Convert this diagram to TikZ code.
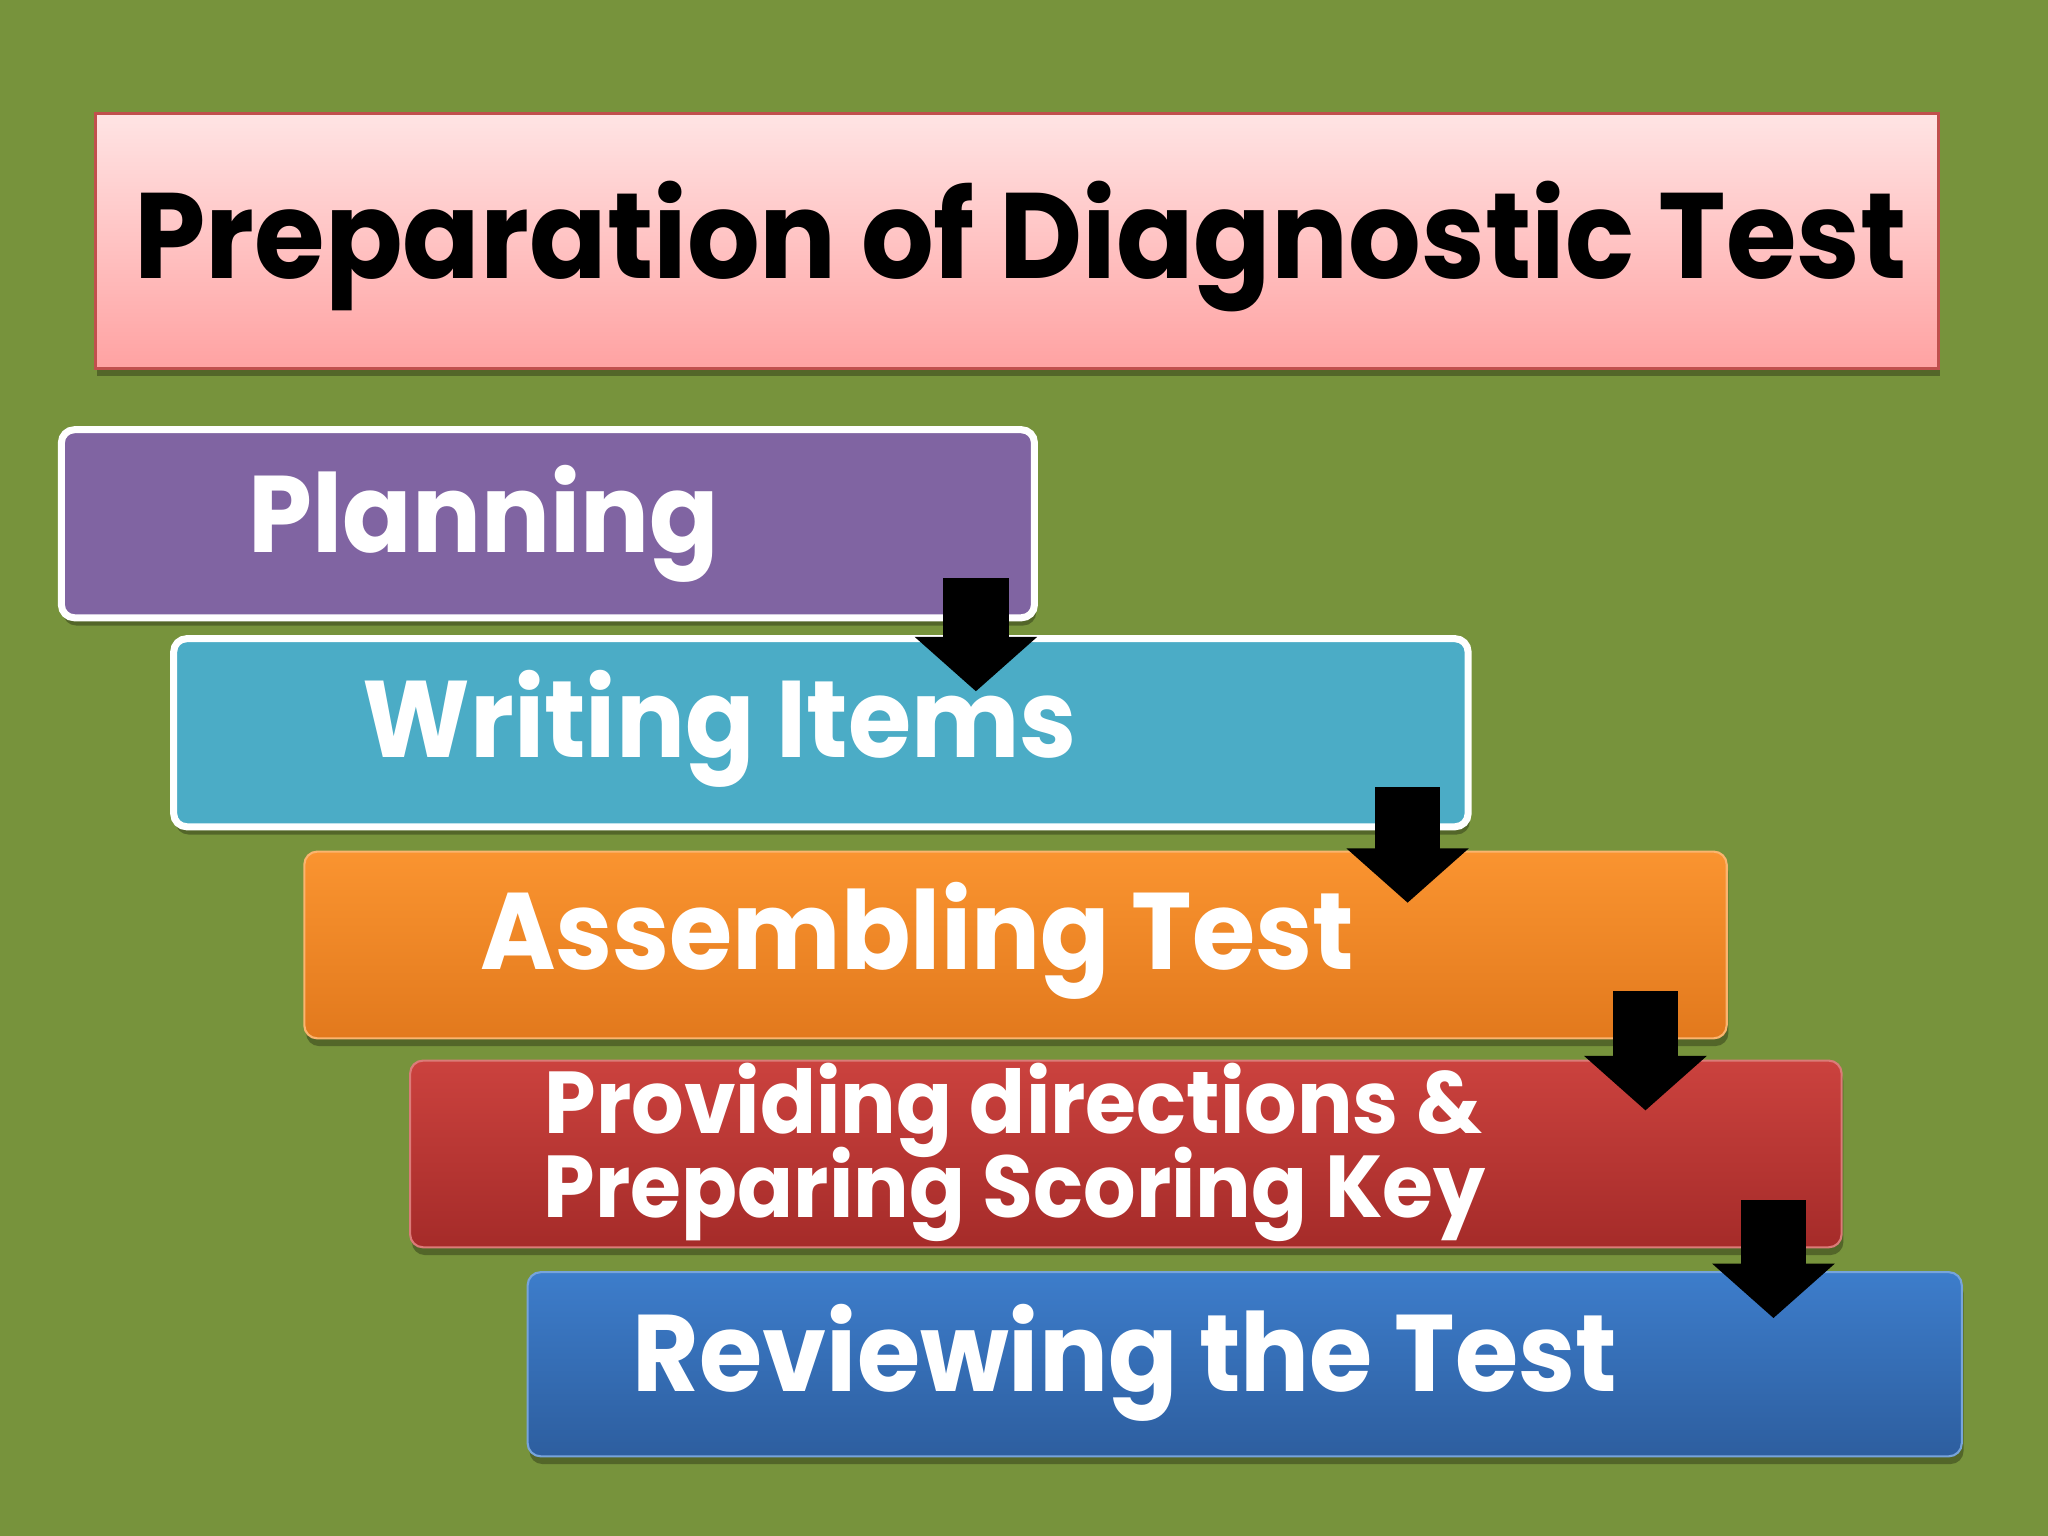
\documentclass[tikz,border=0pt]{standalone}
\usepackage{fontspec}
\newfontfamily\gothic{Poppins}[FakeStretch=0.94]
\usetikzlibrary{fit,positioning,calc,arrows.meta,shadows}
\definecolor{slidebg}{HTML}{77933C}
\definecolor{titletop}{HTML}{FFE4E4}
\definecolor{titlebot}{HTML}{FFA2A2}
\definecolor{titleedge}{HTML}{C0504D}
\definecolor{planfill}{HTML}{8064A2}
\definecolor{writfill}{HTML}{4BACC6}
\definecolor{asmtop}{HTML}{FA9430}
\definecolor{asmbot}{HTML}{E2791D}
\definecolor{provtop}{HTML}{CB423E}
\definecolor{provbot}{HTML}{A52B29}
\definecolor{revtop}{HTML}{3D7DCB}
\definecolor{revbot}{HTML}{2D5E9F}
\tikzset{
	>={Triangle[length=15.5pt,width=34pt]},
	stepbox/.style={rectangle, rounded corners=3.7pt, inner sep=0pt,
		drop shadow={shadow xshift=0.5pt, shadow yshift=-2.2pt, opacity=0.3, fill=black}},
	ringbox/.style={stepbox, draw=white, line width=2pt},
	flatbox/.style={stepbox, draw=#1!70!white, line width=0.6pt},
	steplabel/.style={font=\gothic\bfseries\fontsize{31}{36}\selectfont, text=white, inner sep=0pt},
	steparrow/.style={->, line width=18.6pt, black},
}

\begin{document}
\begin{tikzpicture}[x=0.013061cm, y=-0.013061cm]
	\useasboundingbox (0,0) rectangle (1568,1176);
	\fill[slidebg] (0,0) rectangle (1568,1176);
	
	% title
	\node[rectangle, inner sep=0pt, draw=titleedge, line width=1pt, top color=titletop, bottom color=titlebot,
		drop shadow={shadow xshift=0.5pt, shadow yshift=-2.2pt, opacity=0.3, fill=black},
		fit={(73,87) (1484,282)}] (title) {};
	\node[font=\gothic\bfseries\fontsize{34.6}{40}\selectfont, inner sep=0pt, anchor=base] (titletxt) at (781.5,213) {Preparation of Diagnostic Test};
	
	% steps
	\node[ringbox, fill=planfill, fit={(47,329) (792,473)}] (plan) {};
	\node[steplabel, anchor=base west] (plantxt) at (190,423) {Planning};
	
	\node[ringbox, fill=writfill, fit={(133,489) (1124,633)}] (writ) {};
	\node[steplabel, anchor=base west] (writtxt) at (277,580) {Writing Items};
	
	\node[flatbox=asmtop, top color=asmtop, bottom color=asmbot, fit={(233,652) (1322,795)}] (asm) {};
	\node[steplabel, anchor=base west] (asmtxt) at (367,742) {Assembling Test};
	
	\node[flatbox=provtop, top color=provtop, bottom color=provbot, fit={(314,812) (1410,955)}] (prov) {};
	\node[steplabel, font=\gothic\bfseries\fontsize{25}{30}\selectfont, anchor=base] (provtxt) at (776,868) {Providing directions \&};
	\node[steplabel, font=\gothic\bfseries\fontsize{25}{30}\selectfont, anchor=base] (keytxt) at (777,932) {Preparing Scoring Key};
	
	\node[flatbox=revtop, top color=revtop, bottom color=revbot, fit={(404,974) (1502,1115)}] (rev) {};
	\node[steplabel, anchor=base west] (revtxt) at (484,1065) {Reviewing the Test};
	
	% arrows between steps
	\foreach \s/\t/\dx/\up/\dn [count=\i] in {plan/writ/47.5/33/43, writ/asm/49/33/40, asm/prov/63/37/39, prov/rev/53/37/36} {
		\coordinate (top\i) at ($(\s.south east)+(-\dx,-\up)$);
		\coordinate (tip\i) at ($(top\i |- \t.north)+(0,\dn)$);
		\draw[steparrow] (top\i) -- (tip\i);
	}
\end{tikzpicture}
\end{document}
